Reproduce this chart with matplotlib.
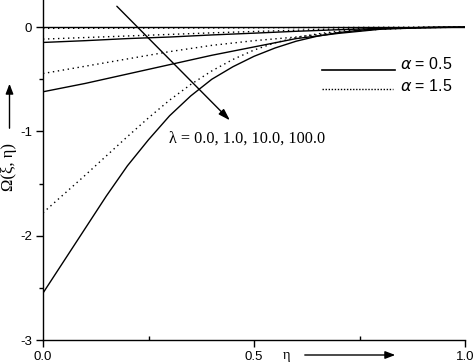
import numpy as np
import matplotlib
matplotlib.use("Agg")
import matplotlib.pyplot as plt
from matplotlib.ticker import MultipleLocator

# ---- data ----
eta_c = [0.0, 0.1, 0.2, 0.3, 0.4, 0.5, 0.6, 0.7, 0.8, 0.9, 1.0]
eta_f = [0.0, 0.05, 0.1, 0.15, 0.2, 0.25, 0.3, 0.35, 0.4, 0.45, 0.5,
         0.55, 0.6, 0.65, 0.7, 0.75, 0.8, 0.85, 0.9, 0.95, 1.0]

# alpha = 0.5 (solid)
a05_l0 = [0.0, 0.0, 0.0, 0.0, 0.0, 0.0, 0.0, 0.0, 0.0, 0.0, 0.0]
a05_l1 = [-0.147, -0.13, -0.11, -0.095, -0.075, -0.058, -0.04, -0.025, -0.012, -0.004, 0.0]
a05_l10 = [-0.62, -0.54, -0.45, -0.36, -0.27, -0.19, -0.11, -0.06, -0.02, -0.006, 0.0]
a05_l100 = [-2.55, -2.24, -1.93, -1.62, -1.33, -1.08, -0.85, -0.66, -0.50, -0.38, -0.28,
            -0.20, -0.135, -0.087, -0.053, -0.03, -0.016, -0.008, -0.004, -0.001, 0.0]

# alpha = 1.5 (dotted)
a15_l0 = [-0.012, -0.011, -0.010, -0.009, -0.008, -0.007, -0.005, -0.004, -0.002, -0.001, 0.0]
a15_l1 = [-0.115, -0.10, -0.085, -0.07, -0.055, -0.042, -0.03, -0.018, -0.009, -0.003, 0.0]
a15_l10 = [-0.445, -0.375, -0.305, -0.235, -0.175, -0.13, -0.095, -0.05, -0.02, -0.006, 0.0]
a15_l100 = [-1.78, -1.60, -1.42, -1.235, -1.05, -0.87, -0.70, -0.55, -0.42, -0.31, -0.22,
            -0.15, -0.10, -0.065, -0.04, -0.025, -0.015, -0.008, -0.004, -0.001, 0.0]

xticks = [0.0, 0.5, 1.0]
xticklabels = ["0.0", "0.5", "1.0"]
yticks = [0, -1, -2, -3]
yticklabels = ["0", "-1", "-2", "-3"]

# ---- figure ----
fig = plt.figure(figsize=(4.74, 3.62), dpi=100)
ax = fig.add_axes([43 / 474, 22 / 362, 422 / 474, 340 / 362])

dot = (0, (1, 2.6))
lw = 1.0
ax.plot(eta_c, a05_l0, color="black", lw=lw)
ax.plot(eta_c, a05_l1, color="black", lw=lw)
ax.plot(eta_c, a05_l10, color="black", lw=lw)
ax.plot(eta_f, a05_l100, color="black", lw=lw)
ax.plot(eta_c, a15_l0, color="black", lw=lw, ls=dot)
ax.plot(eta_c, a15_l1, color="black", lw=lw, ls=dot)
ax.plot(eta_c, a15_l10, color="black", lw=lw, ls=dot)
ax.plot(eta_f, a15_l100, color="black", lw=lw, ls=dot)

ax.set_xlim(0, 1.0)
ax.set_ylim(-3, 0.26)

for s in ["top", "right"]:
    ax.spines[s].set_visible(False)
for s in ["left", "bottom"]:
    ax.spines[s].set_linewidth(1.0)

ax.set_xticks(xticks)
ax.set_xticklabels(xticklabels)
ax.set_yticks(yticks)
ax.set_yticklabels(yticklabels)
ax.xaxis.set_minor_locator(MultipleLocator(0.25))
ax.yaxis.set_minor_locator(MultipleLocator(0.5))
ax.tick_params(axis="both", which="major", direction="out", length=5, width=1,
               labelsize=9.5, pad=3)
ax.tick_params(axis="x", which="minor", direction="in", length=3, width=1)
ax.tick_params(axis="y", which="minor", direction="out", length=3, width=1)
for lab in ax.get_xticklabels() + ax.get_yticklabels():
    lab.set_family("Liberation Sans")

# lambda arrow
ax.annotate("", xy=(0.443, -0.894), xytext=(0.175, 0.20),
            arrowprops=dict(arrowstyle="-|>,head_length=0.7,head_width=0.22",
                            color="black", lw=1.0, shrinkA=0, shrinkB=0))
ax.text(0.483, -1.07, "λ = 0.0, 1.0, 10.0, 100.0", family="Liberation Serif",
        fontsize=11.7, ha="center", va="center")

# legend
ax.plot([0.661, 0.834], [-0.41, -0.41], color="black", lw=1.2)
ax.plot([0.661, 0.829], [-0.595, -0.595], color="black", lw=1.0, ls=(0, (1, 1.2)))
ax.text(0.845, -0.35, r"$\alpha$ = 0.5", family="Liberation Sans", fontsize=11.5,
        ha="left", va="center")
ax.text(0.845, -0.56, r"$\alpha$ = 1.5", family="Liberation Sans", fontsize=11.5,
        ha="left", va="center")

# axis labels with arrows
fig.text(9 / 474, 1 - 167 / 362, "Ω(ξ, η)", rotation=90, family="Liberation Serif",
         fontsize=12, ha="center", va="center")
fig.add_artist(matplotlib.patches.FancyArrowPatch(
    (9.5 / 474, 1 - 131 / 362), (9.5 / 474, 1 - 81 / 362),
    transform=fig.transFigure, arrowstyle="-|>,head_length=6,head_width=2.3",
    color="black", lw=1.0, mutation_scale=1))
fig.text(287 / 474, 1 - 355 / 362, "η", family="Liberation Serif", fontsize=10.5,
         ha="center", va="center")
fig.add_artist(matplotlib.patches.FancyArrowPatch(
    (302 / 474, 1 - 355 / 362), (398 / 474, 1 - 355 / 362),
    transform=fig.transFigure, arrowstyle="-|>,head_length=6,head_width=2.3",
    color="black", lw=1.0, mutation_scale=1))

fig.savefig("out.png", dpi=100)
